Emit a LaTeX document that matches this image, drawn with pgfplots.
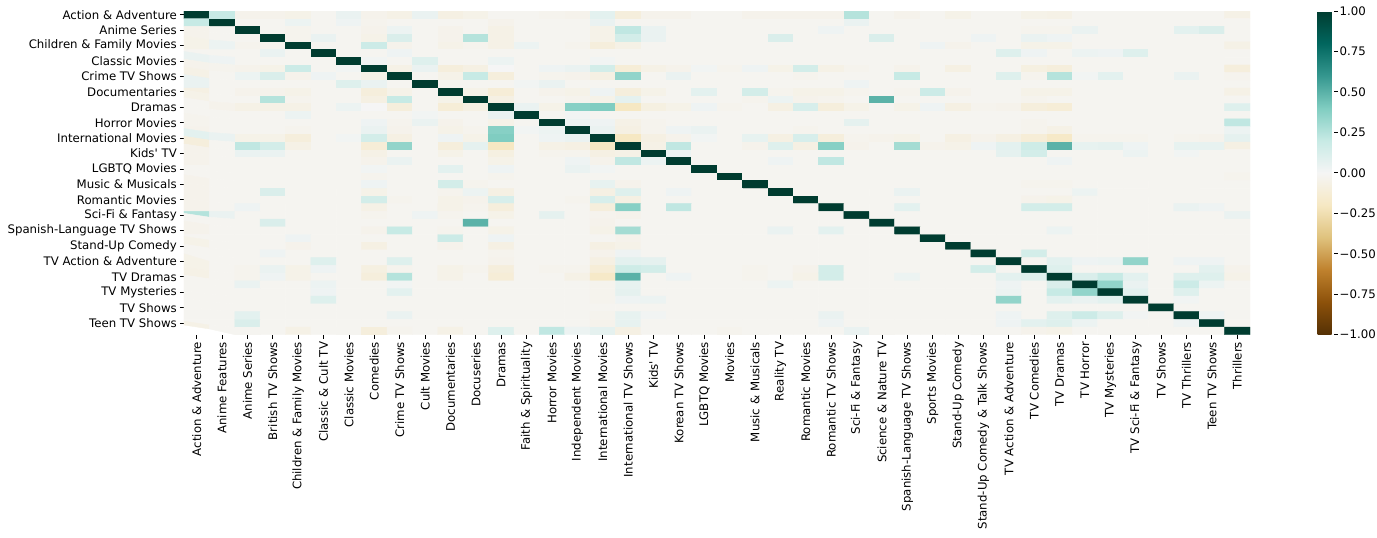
\documentclass[border=0pt]{standalone}
\usepackage{fontspec}
\setmainfont{DejaVu Sans}
\usepackage{pgfplots}
\usepackage{pgfplotstable}
\pgfplotsset{compat=1.18}

% correlation matrix x 100, read row by row (42 x 42 genres)
\pgfplotstableread[row sep=\\]{
r\\
100\\20\\-4\\-4\\-5\\-2\\5\\-4\\-6\\5\\ -7\\-5\\-2\\-2\\-3\\-4\\8\\-10\\-4\\-4\\ -2\\-2\\-4\\-4\\-4\\-4\\25\\-2\\-4\\-2\\ -5\\-2\\-2\\-5\\-6\\-2\\-2\\-2\\-2\\-2\\ -2\\-6\\
20\\100\\-2\\-2\\4\\-2\\3\\-3\\-2\\-2\\ -2\\-2\\-4\\-2\\-2\\-2\\5\\-2\\-2\\-2\\ -2\\-2\\-2\\-2\\-2\\-2\\5\\-2\\-2\\-2\\ -2\\-2\\-2\\-2\\-2\\-2\\-2\\-2\\-2\\-2\\ -2\\-2\\
-4\\-2\\100\\-2\\-3\\-2\\-2\\-4\\4\\-2\\ -4\\-2\\-6\\-2\\-2\\-2\\-5\\22\\5\\-2\\ -2\\-2\\-2\\-2\\-2\\3\\-2\\-2\\-2\\-2\\ -2\\-2\\-2\\-3\\-3\\5\\-2\\-2\\-2\\8\\ 12\\-2\\
-4\\-2\\-2\\100\\-3\\5\\-2\\-5\\12\\-2\\ -4\\25\\-6\\-2\\-2\\-2\\-5\\15\\5\\-2\\ -2\\-2\\-2\\12\\-2\\-2\\-2\\12\\-2\\-2\\ -2\\3\\-2\\5\\3\\-2\\-2\\-2\\-2\\-2\\ -2\\-2\\
-5\\4\\-3\\-3\\100\\-2\\-2\\18\\-4\\-2\\ -5\\-3\\-6\\4\\-2\\-3\\-10\\-6\\-2\\-2\\ -2\\-2\\-2\\-2\\-2\\-2\\-2\\-2\\-2\\3\\ -4\\-2\\-2\\-5\\-5\\-2\\-2\\-2\\-2\\-2\\ -2\\-6\\
-2\\-2\\-2\\5\\-2\\100\\-2\\-2\\3\\-2\\ -2\\-2\\-2\\-2\\-2\\-2\\-2\\-2\\-2\\-2\\ -2\\-2\\-2\\-2\\-2\\-2\\-2\\-2\\-2\\-2\\ -2\\-2\\10\\3\\-2\\4\\3\\10\\-2\\-2\\ -2\\-2\\
5\\3\\-2\\-2\\-2\\-2\\100\\2\\-2\\10\\ -2\\-2\\4\\-2\\-2\\-2\\2\\-2\\-2\\-2\\ -2\\-2\\-2\\-2\\-2\\-2\\-2\\-2\\-2\\-2\\ -2\\-2\\-2\\-2\\-2\\-2\\-2\\-2\\-2\\-2\\ -2\\-2\\
-4\\-3\\-4\\-5\\18\\-2\\2\\100\\-6\\5\\ -10\\-7\\0\\-2\\3\\5\\15\\-12\\-6\\-4\\ 2\\-3\\3\\-5\\15\\-6\\-3\\-2\\-4\\-2\\ -7\\-2\\-2\\-8\\-10\\-2\\-2\\-2\\-2\\-2\\ -2\\-10\\
-6\\-2\\4\\12\\-4\\3\\-2\\-6\\100\\-2\\ -5\\20\\-10\\-2\\-3\\-4\\-7\\35\\-2\\5\\ -2\\-2\\-2\\-2\\-3\\-2\\-2\\-2\\20\\-2\\ -2\\-2\\10\\-3\\25\\2\\8\\-2\\-2\\5\\ -2\\-3\\
5\\-2\\-2\\-2\\-2\\-2\\10\\5\\-2\\100\\ -2\\-2\\-2\\2\\5\\-2\\-2\\-2\\-2\\-2\\ -2\\-2\\-2\\-2\\-2\\-2\\3\\-2\\-2\\-2\\ -2\\-2\\-2\\-2\\-2\\-2\\-2\\-2\\-2\\-2\\ -2\\-2\\
-7\\-2\\-4\\-4\\-5\\-2\\-2\\-10\\-5\\-2\\ 100\\-5\\-12\\-2\\-4\\-5\\3\\-10\\-5\\-2\\ 8\\-2\\15\\-3\\-5\\-5\\-3\\-2\\-3\\18\\ -4\\-2\\-2\\-5\\-5\\-2\\-2\\-2\\-2\\-2\\ -2\\-6\\
-5\\-2\\-2\\25\\-3\\-2\\-2\\-7\\20\\-2\\ -5\\100\\-7\\-2\\-2\\-3\\-5\\7\\-2\\-2\\ -2\\-2\\-3\\4\\-4\\-3\\-2\\50\\-2\\-2\\ -2\\-2\\-2\\-3\\-2\\-2\\-2\\-2\\-2\\-2\\ -2\\-2\\
-2\\-4\\-6\\-6\\-6\\-2\\4\\0\\-10\\-2\\ -12\\-7\\100\\5\\-5\\38\\40\\-20\\-8\\-5\\ 3\\-3\\-2\\-7\\13\\-10\\-5\\-2\\-5\\3\\ -7\\-3\\-4\\-10\\-12\\-2\\-2\\-2\\-2\\-2\\ -2\\10\\
-2\\-2\\-2\\-2\\4\\-2\\-2\\-2\\-2\\2\\ -2\\-2\\5\\100\\-2\\2\\-2\\-2\\-2\\-2\\ -2\\-2\\-2\\-2\\-2\\-2\\-2\\-2\\-2\\-2\\ -2\\-2\\-2\\-2\\-2\\-2\\-2\\-2\\-2\\-2\\ -2\\-2\\
-3\\-2\\-2\\-2\\-2\\-2\\-2\\3\\-3\\5\\ -4\\-2\\-5\\-2\\100\\4\\3\\-6\\-3\\-2\\ -2\\-2\\-2\\-2\\-2\\-2\\7\\-2\\-2\\-2\\ -2\\-2\\-2\\-3\\-2\\-2\\-2\\-2\\-2\\-2\\ -2\\22\\
-4\\-2\\-2\\-2\\-3\\-2\\-2\\5\\-4\\-2\\ -5\\-3\\38\\2\\4\\100\\5\\-7\\-3\\3\\ 5\\-2\\-2\\-2\\-3\\-2\\-2\\-2\\-2\\-2\\ -2\\-2\\-2\\-3\\-6\\-2\\-2\\-2\\-2\\-2\\ -2\\4\\
8\\5\\-5\\-5\\-10\\-2\\2\\15\\-7\\-2\\ 3\\-5\\40\\-2\\3\\5\\100\\-20\\-7\\-4\\ 2\\-2\\6\\-7\\13\\-10\\-3\\-4\\-5\\-2\\ -7\\-4\\-7\\-12\\-18\\-3\\-3\\-3\\-2\\-3\\ -4\\7\\
-10\\-2\\22\\15\\-6\\-2\\-2\\-12\\35\\-2\\ -10\\7\\-20\\-2\\-6\\-7\\-20\\100\\-6\\22\\ -2\\-2\\-4\\10\\-7\\38\\-4\\-2\\30\\-4\\ -5\\3\\8\\17\\50\\6\\7\\3\\-2\\6\\ 6\\-7\\
-4\\-2\\5\\5\\-2\\-2\\-2\\-6\\-2\\-2\\ -5\\-2\\-8\\-2\\-3\\-3\\-7\\-6\\100\\4\\ -2\\-2\\-2\\-2\\-2\\-2\\-2\\-2\\-2\\-2\\ -2\\-2\\7\\15\\-2\\-2\\-2\\4\\-2\\2\\ -2\\-2\\
-4\\-2\\-2\\-2\\-2\\-2\\-2\\-4\\5\\-2\\ -2\\-2\\-5\\-2\\-2\\3\\-4\\22\\4\\100\\ -2\\-2\\-2\\3\\-2\\22\\-2\\-2\\-2\\-2\\ -2\\-2\\-2\\-2\\3\\-2\\-2\\-2\\-2\\-2\\ -2\\-2\\
-2\\-2\\-2\\-2\\-2\\-2\\-2\\2\\-2\\-2\\ 8\\-2\\3\\-2\\-2\\5\\2\\-2\\-2\\-2\\ 100\\-2\\-2\\-2\\-2\\-2\\-2\\-2\\-2\\-2\\ -2\\-2\\-2\\-2\\-2\\-2\\-2\\-2\\-2\\-2\\ -2\\-2\\
-2\\-2\\-2\\-2\\-2\\-2\\-2\\-3\\-2\\-2\\ -2\\-2\\-3\\-2\\-2\\-2\\-2\\-2\\-2\\-2\\ -2\\100\\-2\\-2\\-2\\-2\\-2\\-2\\-2\\-2\\ -2\\-2\\-2\\-2\\-2\\-2\\-2\\-2\\-2\\-2\\ -2\\-3\\
-4\\-2\\-2\\-2\\-2\\-2\\-2\\3\\-2\\-2\\ 15\\-3\\-2\\-2\\-2\\-2\\6\\-4\\-2\\-2\\ -2\\-2\\100\\-2\\-2\\-2\\-2\\-2\\-2\\-2\\ -2\\-2\\-2\\-3\\-3\\-2\\-2\\-2\\-2\\-2\\ -2\\-2\\
-4\\-2\\-2\\12\\-2\\-2\\-2\\-5\\-2\\-2\\ -3\\4\\-7\\-2\\-2\\-2\\-7\\10\\-2\\3\\ -2\\-2\\-2\\100\\-2\\-2\\-2\\-2\\5\\-2\\ -2\\-2\\-2\\-2\\-2\\4\\-2\\-2\\-2\\-2\\ -2\\-2\\
-4\\-2\\-2\\-2\\-2\\-2\\-2\\15\\-3\\-2\\ -5\\-4\\13\\-2\\-2\\-3\\13\\-7\\-2\\-2\\ -2\\-2\\-2\\-2\\100\\-2\\-2\\-2\\-2\\-2\\ -2\\-2\\-2\\-4\\-5\\-2\\-2\\-2\\-2\\-2\\ -2\\-2\\
-4\\-2\\3\\-2\\-2\\-2\\-2\\-6\\-2\\-2\\ -5\\-3\\-10\\-2\\-2\\-2\\-10\\38\\-2\\22\\ -2\\-2\\-2\\-2\\-2\\100\\-2\\-2\\8\\-2\\ -2\\-2\\-2\\15\\15\\-2\\-2\\-2\\-2\\5\\ 3\\-2\\
25\\5\\-2\\-2\\-2\\-2\\-2\\-3\\-2\\3\\ -3\\-2\\-5\\-2\\7\\-2\\-3\\-4\\-2\\-2\\ -2\\-2\\-2\\-2\\-2\\-2\\100\\-2\\-2\\-2\\ -2\\-2\\-2\\-2\\-2\\-2\\-2\\-2\\-2\\-2\\ -2\\5\\
-2\\-2\\-2\\12\\-2\\-2\\-2\\-2\\-2\\-2\\ -2\\50\\-2\\-2\\-2\\-2\\-4\\-2\\-2\\-2\\ -2\\-2\\-2\\-2\\-2\\-2\\-2\\100\\-2\\-2\\ -2\\-2\\-2\\-2\\-2\\-2\\-2\\-2\\-2\\-2\\ -2\\-2\\
-4\\-2\\-2\\-2\\-2\\-2\\-2\\-4\\20\\-2\\ -3\\-2\\-5\\-2\\-2\\-2\\-5\\30\\-2\\-2\\ -2\\-2\\-2\\5\\-2\\8\\-2\\-2\\100\\-2\\ -2\\-2\\-2\\-2\\4\\-2\\-2\\-2\\-2\\-2\\ -2\\-2\\
-2\\-2\\-2\\-2\\3\\-2\\-2\\-2\\-2\\-2\\ 18\\-2\\3\\-2\\-2\\-2\\-2\\-4\\-2\\-2\\ -2\\-2\\-2\\-2\\-2\\-2\\-2\\-2\\-2\\100\\ -2\\-2\\-2\\-2\\-2\\-2\\-2\\-2\\-2\\-2\\ -2\\-2\\
-5\\-2\\-2\\-2\\-4\\-2\\-2\\-7\\-2\\-2\\ -4\\-2\\-7\\-2\\-2\\-2\\-7\\-5\\-2\\-2\\ -2\\-2\\-2\\-2\\-2\\-2\\-2\\-2\\-2\\-2\\ 100\\-2\\-2\\-2\\-2\\-2\\-2\\-2\\-2\\-2\\ -2\\-2\\
-2\\-2\\-2\\3\\-2\\-2\\-2\\-2\\-2\\-2\\ -2\\-2\\-3\\-2\\-2\\-2\\-4\\3\\-2\\-2\\ -2\\-2\\-2\\-2\\-2\\-2\\-2\\-2\\-2\\-2\\ -2\\100\\-2\\15\\-2\\-2\\-2\\-2\\-2\\-2\\ -2\\-2\\
-2\\-2\\-2\\-2\\-2\\10\\-2\\-2\\10\\-2\\ -2\\-2\\-4\\-2\\-2\\-2\\-7\\8\\7\\-2\\ -2\\-2\\-2\\-2\\-2\\-2\\-2\\-2\\-2\\-2\\ -2\\-2\\100\\-2\\8\\3\\4\\35\\-2\\3\\ 3\\-2\\
-5\\-2\\-3\\5\\-5\\3\\-2\\-8\\-3\\-2\\ -5\\-3\\-10\\-2\\-3\\-3\\-12\\17\\15\\-2\\ -2\\-2\\-3\\-2\\-4\\15\\-2\\-2\\-2\\-2\\ -2\\15\\-2\\100\\10\\-2\\-2\\-2\\-2\\-2\\ 8\\-4\\
-6\\-2\\-3\\3\\-5\\-2\\-2\\-10\\25\\-2\\ -5\\-2\\-12\\-2\\-2\\-6\\-18\\50\\-2\\3\\ -2\\-2\\-3\\-2\\-5\\15\\-2\\-2\\4\\-2\\ -2\\-2\\8\\10\\100\\12\\20\\8\\-2\\10\\ 10\\-5\\
-2\\-2\\5\\-2\\-2\\4\\-2\\-2\\2\\-2\\ -2\\-2\\-2\\-2\\-2\\-2\\-3\\6\\-2\\-2\\ -2\\-2\\-2\\4\\-2\\-2\\-2\\-2\\-2\\-2\\ -2\\-2\\3\\-2\\12\\100\\35\\5\\-2\\18\\ 4\\-2\\
-2\\-2\\-2\\-2\\-2\\3\\-2\\-2\\8\\-2\\ -2\\-2\\-2\\-2\\-2\\-2\\-3\\7\\-2\\-2\\ -2\\-2\\-2\\-2\\-2\\-2\\-2\\-2\\-2\\-2\\ -2\\-2\\4\\-2\\20\\35\\100\\8\\-2\\10\\ -2\\-2\\
-2\\-2\\-2\\-2\\-2\\10\\-2\\-2\\-2\\-2\\ -2\\-2\\-2\\-2\\-2\\-2\\-3\\3\\4\\-2\\ -2\\-2\\-2\\-2\\-2\\-2\\-2\\-2\\-2\\-2\\ -2\\-2\\35\\-2\\8\\5\\8\\100\\-2\\2\\ -2\\-2\\
-2\\-2\\-2\\-2\\-2\\-2\\-2\\-2\\-2\\-2\\ -2\\-2\\-2\\-2\\-2\\-2\\-2\\-2\\-2\\-2\\ -2\\-2\\-2\\-2\\-2\\-2\\-2\\-2\\-2\\-2\\ -2\\-2\\-2\\-2\\-2\\-2\\-2\\-2\\100\\-2\\ -2\\-2\\
-2\\-2\\8\\-2\\-2\\-2\\-2\\-2\\5\\-2\\ -2\\-2\\-2\\-2\\-2\\-2\\-3\\6\\2\\-2\\ -2\\-2\\-2\\-2\\-2\\5\\-2\\-2\\-2\\-2\\ -2\\-2\\3\\-2\\10\\18\\10\\2\\-2\\100\\ 3\\-2\\
-2\\-2\\12\\-2\\-2\\-2\\-2\\-2\\-2\\-2\\ -2\\-2\\-2\\-2\\-2\\-2\\-4\\6\\-2\\-2\\ -2\\-2\\-2\\-2\\-2\\3\\-2\\-2\\-2\\-2\\ -2\\-2\\3\\8\\10\\4\\-2\\-2\\-2\\3\\ 100\\-2\\
-6\\-2\\-2\\-2\\-6\\-2\\-2\\-10\\-3\\-2\\ -6\\-2\\10\\-2\\22\\4\\7\\-7\\-2\\-2\\ -2\\-3\\-2\\-2\\-2\\-2\\5\\-2\\-2\\-2\\ -2\\-2\\-2\\-4\\-5\\-2\\-2\\-2\\-2\\-2\\ -2\\100\\
}\corr

\begin{document}
\begin{tikzpicture}
\path[use as bounding box] (-184bp,-203.3bp) rectangle (1193bp,334.7bp);
\begin{axis}[
    scale only axis,
    width=1066bp, height=323.7bp,
    xmin=-0.5, xmax=41.5, ymin=-0.5, ymax=41.5,
    y dir=reverse,
    enlargelimits=false,
    axis line style={draw=none},
    tick pos=left, tick align=outside,
    major tick length=4bp,
    tick style={black, line width=0.9bp},
    tick label style={font=\fontsize{11.8}{14}\selectfont, text=black},
    xtick={0,...,41},
    xticklabels={Action \& Adventure, Anime Features, Anime Series, British TV Shows,
        Children \& Family Movies, Classic \& Cult TV, Classic Movies, Comedies,
        Crime TV Shows, Cult Movies, Documentaries, Docuseries, Dramas,
        Faith \& Spirituality, Horror Movies, Independent Movies, International Movies,
        International TV Shows, Kids\textquotesingle{} TV, Korean TV Shows, LGBTQ Movies,
        Movies, Music \& Musicals, Reality TV, Romantic Movies, Romantic TV Shows,
        Sci-Fi \& Fantasy, Science \& Nature TV, Spanish-Language TV Shows, Sports Movies,
        Stand-Up Comedy, Stand-Up Comedy \& Talk Shows, TV Action \& Adventure,
        TV Comedies, TV Dramas, TV Horror, TV Mysteries, TV Sci-Fi \& Fantasy,
        TV Shows, TV Thrillers, Teen TV Shows, Thrillers},
    xticklabel style={rotate=90, anchor=east, inner sep=3bp},
    ytick={0,2,...,40},
    yticklabels={Action \& Adventure, Anime Series, Children \& Family Movies,
        Classic Movies, Crime TV Shows, Documentaries, Dramas, Horror Movies,
        International Movies, Kids\textquotesingle{} TV, LGBTQ Movies, Music \& Musicals,
        Romantic Movies, Sci-Fi \& Fantasy, Spanish-Language TV Shows, Stand-Up Comedy,
        TV Action \& Adventure, TV Dramas, TV Mysteries, TV Shows, Teen TV Shows},
    yticklabel style={inner sep=3bp},
    colormap={brbg}{rgb255=(84,48,5) rgb255=(140,81,10) rgb255=(191,129,45)
        rgb255=(223,194,125) rgb255=(246,232,195) rgb255=(245,245,245)
        rgb255=(199,234,229) rgb255=(128,205,193) rgb255=(53,151,143)
        rgb255=(1,102,94) rgb255=(0,60,48)},
    point meta min=-1, point meta max=1,
    colorbar,
    colorbar style={
        at={(parent axis.north east)}, anchor=north west, xshift=59bp,
        scale only axis, width=16bp, height=323.7bp,
        axis line style={draw=none},
        ytick={-1,-0.75,-0.5,-0.25,0,0.25,0.5,0.75,1},
        yticklabels={−1.00,−0.75,−0.50,−0.25,0.00,0.25,0.50,0.75,1.00},
        ytick pos=right, yticklabel pos=right,
        tick align=outside, major tick length=4bp,
        tick style={black, line width=0.9bp},
        yticklabel style={font=\fontsize{11.8}{14}\selectfont, inner sep=2bp},
    },
]
\addplot[matrix plot*, mesh/cols=42, point meta=explicit]
    table[x index=0, y index=0,
          x expr={mod(\coordindex,42)}, y expr={floor(\coordindex/42)},
          meta expr={\thisrow{r}/100}] {\corr};
\end{axis}
\end{tikzpicture}
\end{document}
